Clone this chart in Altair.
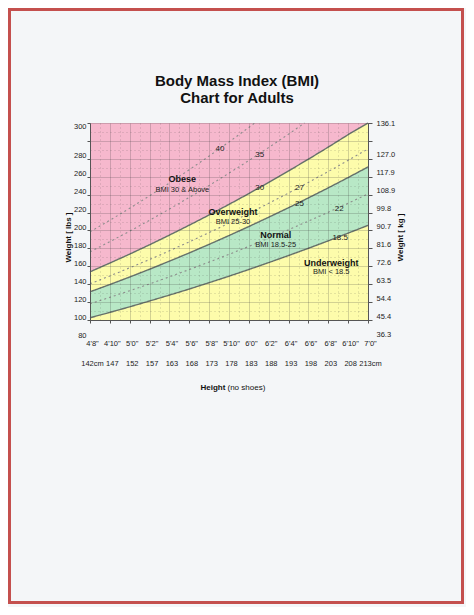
import json
import altair as alt
import pandas as pd

# ---------------- data ----------------
heights = [56, 58, 60, 62, 64, 66, 68, 70, 72, 74, 76, 78, 80, 82, 84]
feet_labels = ["4'8\"", "4'10\"", "5'0\"", "5'2\"", "5'4\"", "5'6\"", "5'8\"",
               "5'10\"", "6'0\"", "6'2\"", "6'4\"", "6'6\"", "6'8\"", "6'10\"", "7'0\""]
cm_labels = ["142cm", "147", "152", "157", "163", "168", "173", "178", "183",
             "188", "193", "198", "203", "208", "213cm"]
minor_heights = [57, 59, 61, 63, 65, 67, 69, 71, 73, 75, 77, 79, 81, 83]

lbs_ticks = [80, 100, 120, 140, 160, 180, 200, 220, 240, 260, 280, 300]
kg_labels = ["36.3", "45.4", "54.4", "63.5", "72.6", "81.6", "90.7", "99.8",
             "108.9", "117.9", "127.0", "136.1"]
minor_lbs = [90, 110, 130, 150, 170, 190, 210, 230, 250, 270, 290]

w_18_5 = [82.5, 88.5, 94.7, 101.2, 107.8, 114.6, 121.7, 128.9, 136.4, 144.1, 152.0, 160.1, 168.4, 177.0, 185.7]
w_22 = [98.1, 105.3, 112.7, 120.3, 128.2, 136.3, 144.7, 153.3, 162.2, 171.4, 180.8, 190.4, 200.3, 210.4, 220.8]
w_25 = [111.5, 119.6, 128.0, 136.7, 145.7, 154.9, 164.5, 174.3, 184.4, 194.8, 205.4, 216.4, 227.6, 239.1, 250.9]
w_27 = [120.4, 129.2, 138.3, 147.6, 157.3, 167.3, 177.6, 188.2, 199.1, 210.3, 221.8, 233.7, 245.8, 258.3, 271.0]
w_30 = [133.8, 143.6, 153.6, 164.0, 174.8, 185.9, 197.3, 209.1, 221.2, 233.7, 246.5, 259.6, 273.1, 287.0, 300.0]
h_35 = [56, 58, 60, 62, 64, 66, 68, 70, 72, 74, 76, 77.6]
w_35 = [156.1, 167.5, 179.2, 191.4, 203.9, 216.9, 230.2, 244.0, 258.1, 272.6, 287.6, 300.0]
h_40 = [56, 58, 60, 62, 64, 66, 68, 70, 72, 72.6]
w_40 = [178.4, 191.4, 204.8, 218.7, 233.0, 247.8, 263.1, 278.8, 295.0, 300.0]
w_top = 300
w_bottom = 80

line_label_text = ["40", "35", "30", "27", "25", "22", "18.5"]
line_label_h = [69.1, 73.1, 73.1, 77.1, 77.1, 81.1, 81.2]
line_label_w = [270.6, 264.3, 227.7, 227.7, 209.5, 204.3, 171.2]

region_names = ["Obese", "Overweight", "Normal", "Underweight"]
region_sub = ["BMI 30 & Above", "BMI 25-30", "BMI 18.5-25", "BMI < 18.5"]
region_h = [65.3, 70.4, 74.7, 80.3]
region_w = [237.5, 200.3, 174.9, 143.3]
region_sub_w = [225.2, 189.1, 163.8, 133.3]

PINK, YELLOW, GREEN = "#f6b8cd", "#fdfcab", "#b8e8c6"
FONT = "Liberation Sans"

# ---------------- tables ----------------
def band(lo, hi):
    return pd.DataFrame({"h": heights, "lo": lo, "hi": hi})

band_obese = band(w_30, [w_top] * len(heights))
band_over = band(w_25, w_30)
band_normal = band(w_18_5, w_25)
band_under = band([w_bottom] * len(heights), w_18_5)

line_rows = []
for name, hs, ws, style in [("18.5", heights, w_18_5, "solid"), ("22", heights, w_22, "dot"),
                            ("25", heights, w_25, "solid"), ("27", heights, w_27, "dot"),
                            ("30", heights, w_30, "solid"), ("35", h_35, w_35, "dot"),
                            ("40", h_40, w_40, "dot")]:
    for h, w in zip(hs, ws):
        line_rows.append({"bmi": name, "h": h, "w": w, "style": style})
lines = pd.DataFrame(line_rows)

line_labels = pd.DataFrame({"t": line_label_text, "h": line_label_h, "w": line_label_w})
regions = pd.DataFrame({"t": region_names, "s": region_sub, "h": region_h,
                        "w": region_w, "ws": region_sub_w})

xs = alt.Scale(domain=[56, 84], nice=False, zero=False)
ys = alt.Scale(domain=[80, 300], nice=False, zero=False)

pairs = [[f, c] for f, c in zip(feet_labels, cm_labels)]
x_label_expr = json.dumps(pairs) + "[round((datum.value - 56) / 2)]"
kg_label_expr = json.dumps(kg_labels) + "[round((datum.value - 80) / 20)]"

GRID = dict(grid=True, gridColor="#3a3a3a", gridOpacity=0.22, gridWidth=1, zindex=1)
MINOR = dict(grid=True, gridColor="#3a3a3a", gridOpacity=0.25, gridWidth=1, gridDash=[1, 3],
             labels=False, ticks=False, domain=False, zindex=1)

x_bottom = alt.Axis(values=heights, labelExpr=x_label_expr, tickSize=3, labelPadding=16,
                    labelLineHeight=20, labelFlush=False, labelOverlap=False,
                    labelBaseline="top", labelOffset=2,
                    title="Height", titleFontWeight="bold", titleFontSize=8,
                    titleX=110, titleY=67, titleAlign="left", titleBaseline="middle", **GRID)
x_minor = alt.Axis(orient="top", values=minor_heights, title="(no shoes)",
                   titleFontWeight="normal", titleFontSize=8, titleX=137, titleY=264,
                   titleAlign="left", titleBaseline="middle", **MINOR)
y_left = alt.Axis(values=lbs_ticks, tickSize=3, labelPadding=1,
                  labelOffset={"condition": {"test": "datum.value == 300", "value": 3}, "value": 15},
                  title="Weight [ lbs ]", titleFontWeight="bold", titleFontSize=8,
                  titleAngle=270, titleX=-22, titleY=114, titleAlign="center",
                  titleBaseline="middle", **GRID)
y_right = alt.Axis(orient="right", values=lbs_ticks, labelExpr=kg_label_expr, grid=False,
                   tickSize=4, labelPadding=4,
                   labelOffset={"condition": {"test": "datum.value == 300", "value": 0}, "value": 14},
                   title="Weight [ kg ]", titleFontWeight="bold", titleFontSize=8,
                   titleAngle=270, titleX=32, titleY=114, titleAlign="center",
                   titleBaseline="middle", zindex=1)
y_minor = alt.Axis(orient="left", values=minor_lbs, title="", **MINOR)


def area_layer(df, colour, xaxis=None, yaxis=None):
    return alt.Chart(df).mark_area(color=colour).encode(
        x=alt.X("h:Q", scale=xs, axis=xaxis),
        y=alt.Y("lo:Q", scale=ys, axis=yaxis),
        y2=alt.Y2("hi"),
    )


a_obese = area_layer(band_obese, PINK, x_bottom, y_left)
a_over = area_layer(band_over, YELLOW)
a_normal = area_layer(band_normal, GREEN)
a_under = area_layer(band_under, YELLOW)

bmi_lines = alt.Chart(lines).mark_line().encode(
    x=alt.X("h:Q", scale=xs, axis=x_minor),
    y=alt.Y("w:Q", scale=ys, axis=y_right),
    detail="bmi:N",
    stroke=alt.Stroke("style:N", scale=alt.Scale(domain=["solid", "dot"], range=["#66716a", "#8d8d8d"]), legend=None),
    strokeDash=alt.StrokeDash("style:N", scale=alt.Scale(domain=["solid", "dot"], range=[[1, 0], [2, 3]]), legend=None),
    strokeWidth=alt.StrokeWidth("style:N", scale=alt.Scale(domain=["solid", "dot"], range=[1.4, 1.1]), legend=None),
)

lbl = alt.Chart(line_labels).mark_text(font=FONT, fontSize=8, color="#222").encode(
    x=alt.X("h:Q", scale=xs, axis=None),
    y=alt.Y("w:Q", scale=ys, axis=y_minor),
    text="t:N",
)

reg = alt.Chart(regions).mark_text(font=FONT, fontSize=9, fontWeight="bold", color="#111").encode(
    x=alt.X("h:Q", scale=xs, axis=None),
    y=alt.Y("w:Q", scale=ys, axis=None),
    text="t:N",
)
reg_sub = alt.Chart(regions).mark_text(font=FONT, fontSize=7.5, color="#222").encode(
    x=alt.X("h:Q", scale=xs, axis=None),
    y=alt.Y("ws:Q", scale=ys, axis=None),
    text="s:N",
)

frame = alt.Chart(pd.DataFrame({"k": [0]})).mark_rect(
    fillOpacity=0, stroke="#c4504e", strokeWidth=3
).encode(x=alt.value(-80.5), x2=alt.value(372.5), y=alt.value(-113.5), y2=alt.value(479.5))

chart = alt.layer(a_obese, a_over, a_normal, a_under, bmi_lines, lbl, reg, reg_sub, frame).resolve_axis(
    x="independent", y="independent"
).properties(
    width=278, height=197,
    autosize=alt.AutoSizeParams(type="none"),
    padding={"left": 82, "top": 115, "right": 98, "bottom": 287},
    background="#f4f6f8",
    title=alt.TitleParams(text=["Body Mass Index (BMI)", "Chart for Adults"], font=FONT,
                          fontSize=15, fontWeight="bold", lineHeight=17, color="#111",
                          anchor="middle", frame="group", dx=8, offset=-98),
).configure_axis(
    labelFont=FONT, labelFontSize=7.5, labelColor="#222", titleFont=FONT, titleColor="#111",
    domainColor="#555", tickColor="#555",
).configure_view(stroke="#888", strokeWidth=1)

chart.save("out.html", embed_options={"renderer": "svg", "actions": False})
